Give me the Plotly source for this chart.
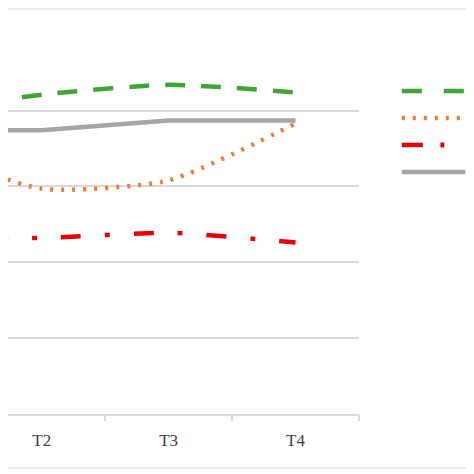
import plotly.graph_objects as go

periods = ["T1", "T2", "T3", "T4"]
x_pos = [1, 2, 3, 4]
series_names = ["High", "Upper", "Low", "Mean"]
high = [3.97, 4.21, 4.34, 4.24]
upper = [3.55, 2.97, 3.08, 3.83]
low = [2.34, 2.32, 2.39, 2.26]
mean = [3.74, 3.74, 3.87, 3.87]

colors = ["#3FA535", "#ED7D31", "#E8000B", "#A5A5A5"]
dashes = ["20px,16px", "3px,8px", "20px,24px,5px,24px", "solid"]
values = [high, upper, low, mean]
shapes_line = ["spline", "spline", "spline", "linear"]

fig = go.Figure()
for name, vals, c, d, sh in zip(series_names, values, colors, dashes, shapes_line):
    fig.add_trace(go.Scatter(x=x_pos, y=vals, mode="lines", name=name, showlegend=False,
                             line=dict(color=c, width=4.5, dash=d, shape=sh, smoothing=0.6)))

fig.add_trace(go.Scatter(x=[2.5], y=[None], xaxis="x2", showlegend=False))

fig.update_layout(
    width=474, height=474,
    margin=dict(l=0, r=123, t=26, b=68),
    paper_bgcolor="white", plot_bgcolor="white",
    font=dict(family="Liberation Serif", color="#404040", size=17),
    xaxis=dict(range=[1.734, 4.5], tickvals=x_pos, ticktext=periods, showgrid=False,
               showline=True, linecolor="#d9d9d9", linewidth=1.5, ticks="", zeroline=False,
               ticklabelstandoff=10),
    xaxis2=dict(range=[1.734, 4.5], overlaying="x", side="bottom", tickvals=[2.5, 3.5, 4.5],
                ticktext=["", "", ""], ticks="outside", ticklen=6, tickcolor="#d9d9d9",
                tickwidth=1.5, showgrid=False, showline=False, zeroline=False),
    yaxis=dict(range=[0, 5.01], tickvals=[1, 2, 3, 4, 5], showgrid=True, gridcolor="#d9d9d9",
               gridwidth=1.5, showticklabels=False, zeroline=False, ticks=""),
)

shapes = [
    dict(type="line", xref="paper", yref="paper", x0=0, x1=1.4, y0=1.066, y1=1.066,
         line=dict(color="#e3e3e3", width=1.5)),
    dict(type="line", xref="paper", yref="paper", x0=0, x1=1.4, y0=-0.142, y1=-0.142,
         line=dict(color="#e3e3e3", width=1.5)),
]
annotations = []
lx0, lx1 = 1.122, 1.303
for i, (name, c, d) in enumerate(zip(series_names, colors, dashes)):
    yp = 0.85 - i * 0.071
    if d == "solid":
        shapes.append(dict(type="line", xref="paper", yref="paper", x0=lx0, x1=lx1, y0=yp, y1=yp,
                           line=dict(color=c, width=4.5)))
    elif d.startswith("3px"):
        shapes.append(dict(type="line", xref="paper", yref="paper", x0=lx0, x1=lx1, y0=yp, y1=yp,
                           line=dict(color=c, width=4.5, dash="3px,8px")))
    elif d.startswith("20px,16px"):
        shapes.append(dict(type="line", xref="paper", yref="paper", x0=lx0, x1=lx1, y0=yp, y1=yp,
                           line=dict(color=c, width=4.5, dash="20px,22px")))
    else:
        shapes.append(dict(type="line", xref="paper", yref="paper", x0=lx0, x1=lx0 + 0.06, y0=yp, y1=yp,
                           line=dict(color=c, width=4.5)))
        shapes.append(dict(type="line", xref="paper", yref="paper", x0=1.232, x1=1.243, y0=yp, y1=yp,
                           line=dict(color=c, width=5)))
    annotations.append(dict(xref="paper", yref="paper", x=1.306, y=yp, text=name, showarrow=False,
                            xanchor="left", yanchor="middle", font=dict(size=19, color="#404040")))

fig.update_layout(shapes=shapes, annotations=annotations)
fig.write_html("out.html")
